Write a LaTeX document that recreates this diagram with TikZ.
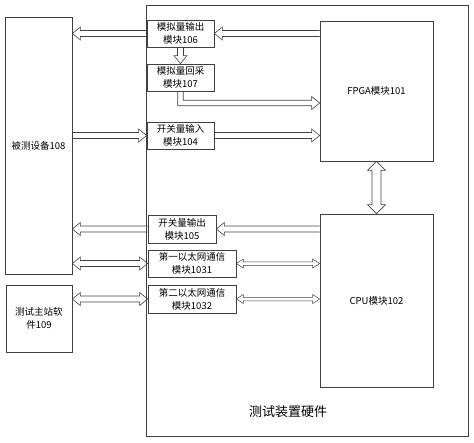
\documentclass[tikz,border=0pt]{standalone}
\usepackage{fontspec}
\setmainfont{Noto Sans CJK SC}
\usepackage{tikz}
\usetikzlibrary{positioning,calc}
\tikzstyle{module} = [rectangle, draw=black!75, line width=0.7pt, inner sep=0pt, align=center, font=\fontsize{9.5}{13}\selectfont]
\tikzstyle{arrowline} = [draw=black!75, line width=0.6pt, line join=miter]
\tikzset{hollow/.style n args={3}{to path={($(\tikztotarget)!#3!(\tikztostart)$) coordinate (hd)
           ($(\tikztostart)!#1!90:(\tikztotarget)$) -- ($(hd)!#1!90:(\tikztotarget)$) -- ($(hd)!#2!90:(\tikztotarget)$)
           -- (\tikztotarget) -- ($(hd)!#2!-90:(\tikztotarget)$) -- ($(hd)!#1!-90:(\tikztotarget)$) -- ($(\tikztostart)!#1!-90:(\tikztotarget)$)}},
         hollowbi/.style n args={3}{to path={($(\tikztostart)!#3!(\tikztotarget)$) coordinate (ha) ($(\tikztotarget)!#3!(\tikztostart)$) coordinate (hb)
           (\tikztostart) -- ($(ha)!#2!90:(\tikztotarget)$) -- ($(ha)!#1!90:(\tikztotarget)$) -- ($(hb)!#1!90:(\tikztotarget)$) -- ($(hb)!#2!90:(\tikztotarget)$)
           -- (\tikztotarget) -- ($(hb)!#2!-90:(\tikztotarget)$) -- ($(hb)!#1!-90:(\tikztotarget)$) -- ($(ha)!#1!-90:(\tikztotarget)$) -- ($(ha)!#2!-90:(\tikztotarget)$) -- cycle}},
         bigarrow/.style={arrowline, hollow={3pt}{6.5pt}{8pt}},
         biarrow/.style={arrowline, hollowbi={3pt}{6.5pt}{8pt}},
         thinbi/.style={arrowline, line width=0.5pt, hollowbi={1.75pt}{4.5pt}{7pt}},
         busarrow/.style={arrowline, hollowbi={4.5pt}{9pt}{9pt}}
}

\begin{document}
\begin{tikzpicture}[x=1pt,y=-1pt]
\useasboundingbox (0,0) rectangle (474,442);
\node (hw) [module, minimum width=322pt, minimum height=431pt] at (307,220.5) {};
\node (hwtext) [font=\fontsize{13}{15}\selectfont] at (288,412) {测试装置硬件};
\node (dut) [module, minimum width=67pt, minimum height=257pt] at (38.5,145.5) {被测设备108};
\node (master) [module, minimum width=66pt, minimum height=67pt] at (39,318.5) {测试主站软\\件109};
\node (fpga) [module, minimum width=113pt, minimum height=140pt] at (376.5,91) {FPGA模块101};
\node (cpu) [module, minimum width=113pt, minimum height=173pt] at (376.5,300.5) {CPU模块102};
\node (m106) [module, minimum width=67pt, minimum height=27pt] at (180.5,33.5) {模拟量输出\\模块106};
\node (m107) [module, minimum width=67pt, minimum height=27pt] at (180.5,77.5) {模拟量回采\\模块107};
\node (m104) [module, minimum width=67pt, minimum height=27pt] at (180.5,135.5) {开关量输入\\模块104};
\node (m105) [module, minimum width=68pt, minimum height=28pt] at (182,229) {开关量输出\\模块105};
\node (m1031) [module, minimum width=88pt, minimum height=27pt] at (192,263.5) {第一以太网通信\\模块1031};
\node (m1032) [module, minimum width=88pt, minimum height=28pt] at (192,299) {第二以太网通信\\模块1032};
\coordinate (e107) at ([yshift=-12pt]fpga.west);

\draw [bigarrow] (m106.west) to (dut.east |- m106.west);
\draw [bigarrow] (fpga.west |- m106.east) to (m106.east);
\draw [bigarrow] (m106.south) to (m107.north);
\draw [arrowline] ([xshift=-2.75pt]m107.south) |- ([xshift=-8pt,yshift=-2.75pt]e107) -- ([xshift=-8pt,yshift=-6.5pt]e107) -- (e107)
  -- ([xshift=-8pt,yshift=6.5pt]e107) -- ([xshift=-8pt,yshift=2.75pt]e107) -| ([xshift=2.75pt]m107.south);
\draw [bigarrow] (dut.east |- m104.west) to (m104.west);
\draw [bigarrow] (m104.east) to (fpga.west |- m104.east);
\draw [bigarrow] (cpu.west |- m105.east) to (m105.east);
\draw [bigarrow] (m105.west) to (dut.east |- m105.west);
\draw [biarrow] (dut.east |- m1031.west) to (m1031.west);
\draw [thinbi] (m1031.east) to (cpu.west |- m1031.east);
\draw [biarrow] (master.east |- m1032.west) to (m1032.west);
\draw [thinbi] (m1032.east) to (cpu.west |- m1032.east);
\draw [busarrow] (fpga.south) to (cpu.north);
\end{tikzpicture}
\end{document}
